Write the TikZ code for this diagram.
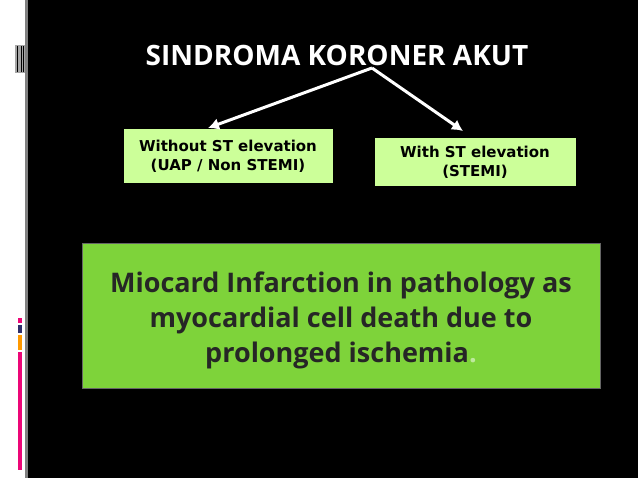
\documentclass[tikz,border=0pt]{standalone}
\usepackage{fontspec}
\setmainfont{Open Sans}
\newfontfamily\boxfont{DejaVu Sans}
\begin{document}
\begin{tikzpicture}[x=1pt,y=-1pt,
  small/.style={draw=black,line width=0.6pt,fill=smallgreen,font=\boxfont\bfseries\fontsize{15}{19}\selectfont,align=center,inner sep=0pt},
  arr/.style={white,line width=3pt,-{Latex[length=11pt,width=12pt]}}]
\definecolor{smallgreen}{HTML}{CCFF99}
\definecolor{biggreen}{HTML}{7ED33A}
\usetikzlibrary{arrows.meta}
\useasboundingbox (0,0) rectangle (638,478);
\fill[white] (0,0) rectangle (26,478);
\fill[black] (26,0) rectangle (638,478);
\fill[gray] (25,0) rectangle (28,478);
% barcode icon
\fill[gray!70] (15,45) rectangle (25,73);
\foreach \xx in {17,20.5,23} \fill[black] (\xx,46) rectangle ++(1.2,26);
% colour bars
\fill[magenta!80!red] (18,318) rectangle (22,323);
\fill[gray!60!blue!60!black] (18,325) rectangle (22,333);
\fill[orange!80!yellow] (18,335) rectangle (22,350);
\fill[magenta!80!red] (18,352) rectangle (22,470);
\node[white,font=\bfseries\fontsize{28}{32}\selectfont] (title) at (337,55) {SINDROMA KORONER AKUT};
\coordinate (top) at (372,68);
\node[small,minimum width=210,minimum height=55] (l) at (228,156) {Without ST elevation\\(UAP / Non STEMI)};
\node[small,minimum width=202,minimum height=49] (r) at (475,162) {With ST elevation\\(STEMI)};
\draw[arr] (top) -- (208,128);
\draw[arr] (top) -- (463,131);
\node[draw=black!60,fill=biggreen,minimum width=518,minimum height=145] (big) at (341,316) {};
\node[font=\bfseries\fontsize{27}{35}\selectfont,align=center,text=black!85] at (341,320) {Miocard Infarction in pathology as\\myocardial cell death due to\\prolonged ischemia\textcolor{biggreen!50!white}{.}};
\end{tikzpicture}
\end{document}
